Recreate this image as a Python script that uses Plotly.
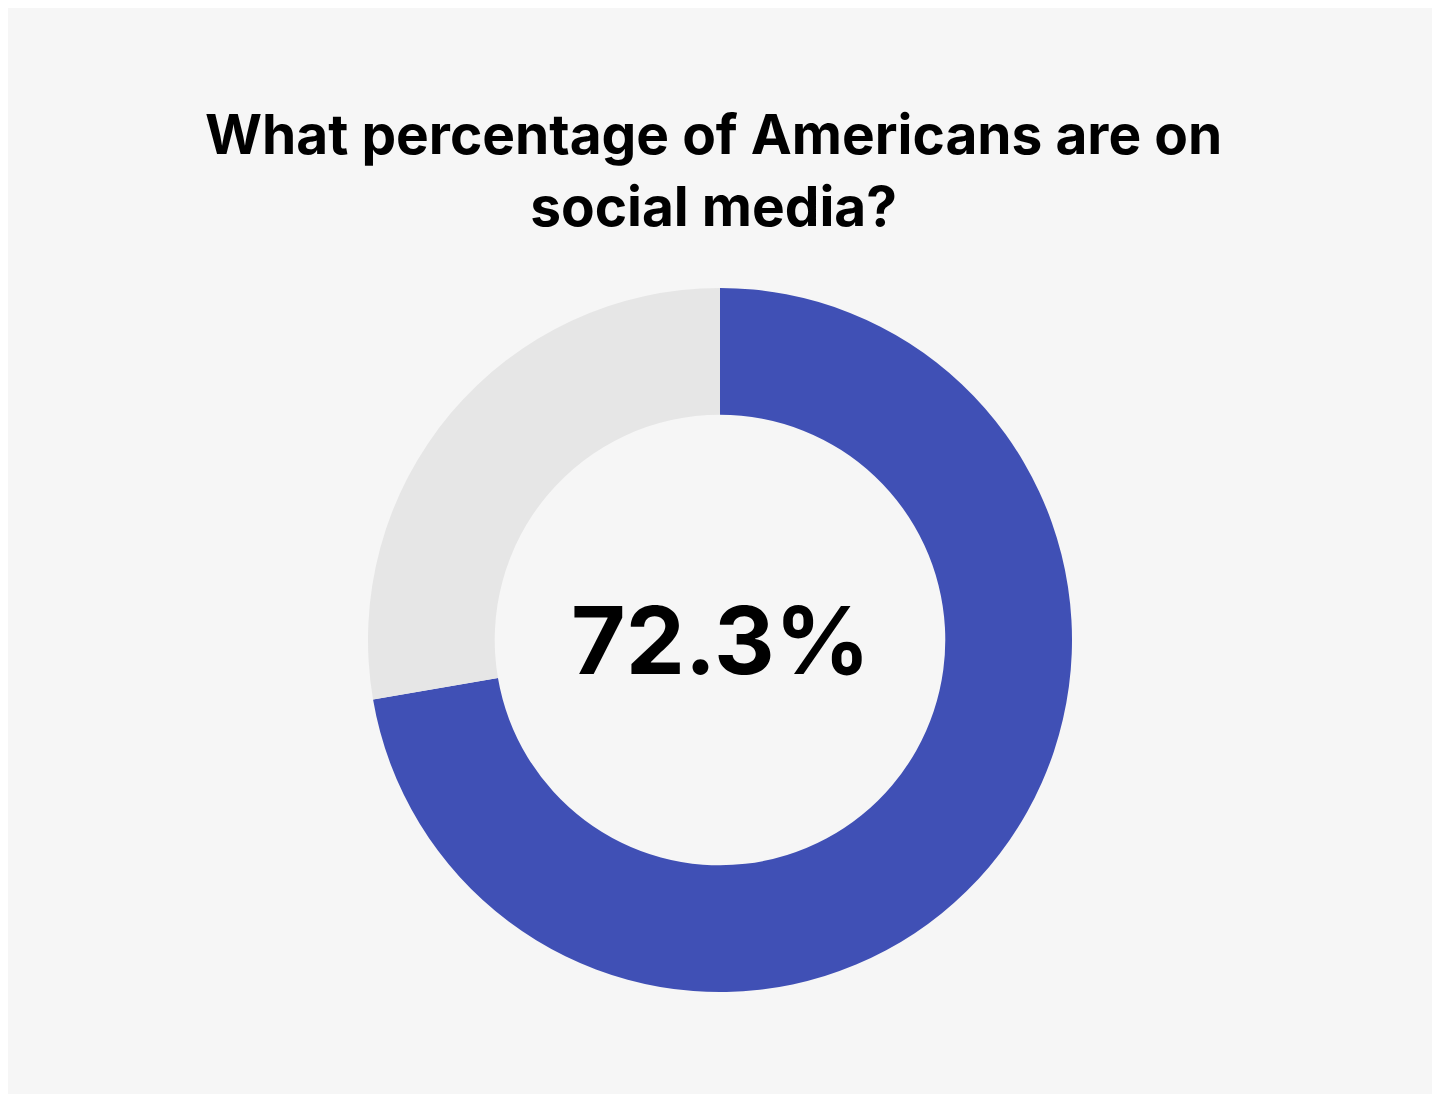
import plotly.graph_objects as go

labels = ["On social media", "Not on social media"]
values = [72.3, 27.7]
colors = ["#4050b5", "#e6e6e6"]

W, H = 1440, 1094
OFF = 8  # page body margin shifts the figure

fig = go.Figure(go.Pie(
    labels=labels,
    values=values,
    hole=0.64,
    sort=False,
    direction="clockwise",
    rotation=0,
    marker=dict(colors=colors, line=dict(width=0)),
    textinfo="none",
    hoverinfo="label+percent",
    domain=dict(x=[(368 - OFF) / W, (1072 - OFF) / W],
                y=[(102 + OFF) / H, (806 + OFF) / H]),
    showlegend=False,
))

fig.add_annotation(
    text=f"<b>{values[0]}%</b>", x=(720 - OFF) / W, y=(1094 - 640 + OFF) / H,
    xref="paper", yref="paper", showarrow=False, yanchor="middle",
    font=dict(family="Inter", size=94, color="#000000"),
)
fig.add_annotation(
    text="<b>What percentage of Americans are on<br>social media?</b>",
    x=(713 - OFF) / W, y=(1094 - 170 + OFF) / H, xref="paper", yref="paper",
    showarrow=False, yanchor="middle",
    font=dict(family="Inter", size=55, color="#000000"),
)

fig.update_layout(
    width=W, height=H,
    margin=dict(l=0, r=0, t=0, b=0),
    paper_bgcolor="#f6f6f6",
    plot_bgcolor="#f6f6f6",
)

fig.write_html("out.html")
